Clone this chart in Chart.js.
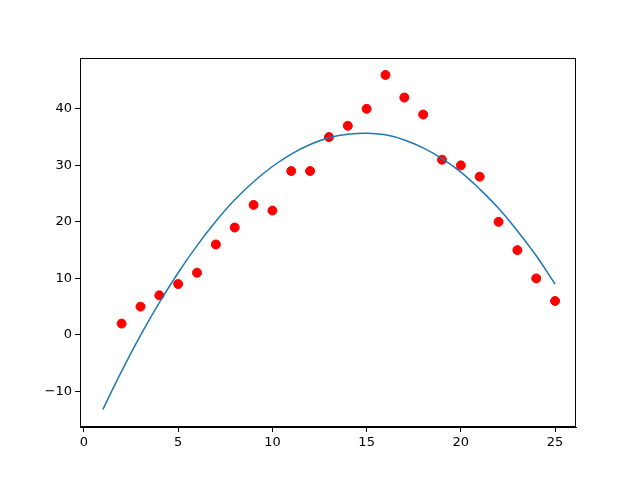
<!DOCTYPE html>
<html><head><script src="https://cdn.jsdelivr.net/npm/chart.js@4"></script>
<style>body{margin:0;background:#fff}</style></head><body>
<canvas id="c" width="640" height="480" style="width:640px;height:480px"></canvas>
<script>
const scatterX=[2,3,4,5,6,7,8,9,10,11,12,13,14,15,16,17,18,19,20,21,22,23,24,25];
const scatterY=[2,5,7,9,11,16,19,23,22,29,29,35,37,40,46,42,39,31,30,28,20,15,10,6];
const curveX=[1,2,3,4,5,6,7,8,9,10,11,12,13,14,15,16,17,18,19,20,21,22,23,24,25];
const curveY=[-13.2,-6.4,-0.1,5.7,11.0,15.8,20.1,23.9,27.1,29.8,32.0,33.7,34.9,35.5,35.7,35.4,34.5,33.1,31.2,28.8,25.8,22.4,18.4,14.0,9.0];
const xTicks=[0,5,10,15,20,25];
const yTicks=[-10,0,10,20,30,40];
const font={family:'DejaVu Sans',size:13};
function axis(ticks,min,max,pos,fit){return{type:'linear',position:pos,min,max,
 afterBuildTicks:s=>{s.ticks=ticks.map(v=>({value:v}));},
 afterFit:fit,
 grid:{display:true,drawOnChartArea:false,tickLength:5,color:'#000',tickColor:'#000'},
 border:{display:true,color:'#000',width:1},
 ticks:{color:'#000',font,padding:3,callback:v=>v<0?'\u2212'+(-v):''+v}};}
new Chart(document.getElementById('c'),{
 type:'scatter',
 data:{datasets:[
  {type:'line',data:curveX.map((x,i)=>({x,y:curveY[i]})),borderColor:'#1f77b4',borderWidth:1.5,pointRadius:0,tension:0.4,fill:false},
  {data:scatterX.map((x,i)=>({x,y:scatterY[i]})),backgroundColor:'#ff0000',borderColor:'#ff0000',pointRadius:4.5}
 ]},
 options:{responsive:false,animation:false,devicePixelRatio:1,
  layout:{padding:{left:0,top:58,right:64,bottom:0}},
  plugins:{legend:{display:false},tooltip:{enabled:false}},
  scales:{
   x:axis(xTicks,-0.21,26.11,'bottom',s=>{s.height=53;}),
   y:axis(yTicks,-16.3,49.0,'left',s=>{s.width=80;})
  }},
 plugins:[{id:'frame',afterDraw(c){const a=c.chartArea,x=c.ctx;x.save();x.strokeStyle='#000';x.lineWidth=1;x.strokeRect(a.left+0.5,a.top+0.5,a.right-a.left-1,a.bottom-a.top-1);x.restore();}}]
});
</script></body></html>
